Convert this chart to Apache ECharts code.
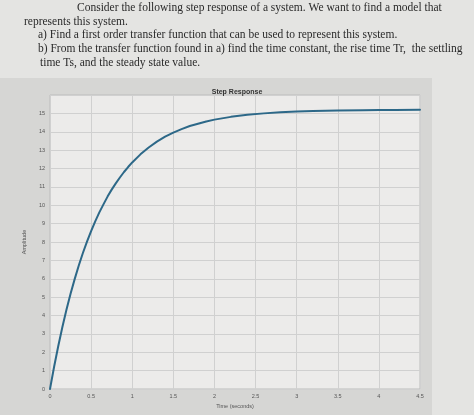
<!DOCTYPE html>
<html><head><meta charset="utf-8">
<script src="https://cdn.jsdelivr.net/npm/echarts@6/dist/echarts.min.js"></script>
<style>html,body{margin:0;padding:0;background:#e4e4e2;}#c{width:474px;height:415px;}</style>
</head><body><div id="c"></div>
<script>
const questionLines = [
  "Consider the following step response of a system. We want to find a model that",
  "represents this system.",
  "a) Find a first order transfer function that can be used to represent this system.",
  "b) From the transfer function found in a) find the time constant, the rise time Tr,  the settling",
  "time Ts, and the steady state value."
];
const timeValues = [0, 0.05, 0.1, 0.15, 0.2, 0.25, 0.3, 0.35, 0.4, 0.45, 0.5, 0.55, 0.6, 0.65, 0.7, 0.75, 0.8, 0.85, 0.9, 0.95, 1.0, 1.1, 1.2, 1.3, 1.4, 1.5, 1.6, 1.7, 1.8, 1.9, 2.0, 2.2, 2.4, 2.6, 2.8, 3.0, 3.2, 3.5, 3.8, 4.0, 4.2, 4.5];
const amplitudeValues = [0, 1.21, 2.33, 3.36, 4.31, 5.18, 5.98, 6.72, 7.40, 8.02, 8.59, 9.12, 9.61, 10.05, 10.47, 10.85, 11.19, 11.51, 11.81, 12.08, 12.33, 12.77, 13.14, 13.46, 13.73, 13.95, 14.14, 14.31, 14.44, 14.56, 14.66, 14.81, 14.92, 15.0, 15.06, 15.1, 15.13, 15.16, 15.17, 15.18, 15.19, 15.2];
const chartTitle = "Step Response";
const xAxisName = "Time (seconds)";
const yAxisName = "Amplitude";

const chart = echarts.init(document.getElementById('c'));
const lineX = [77, 24, 38, 38, 40];
const lineY = [2, 16, 29, 43, 57];
const textEls = questionLines.map((t, i) => ({
  type: 'text', left: lineX[i], top: lineY[i], z: 10,
  style: { text: t, font: '11.5px "Liberation Serif"', fill: '#2a2a2a' }
}));
chart.setOption({
  backgroundColor: '#e4e4e2',
  animation: false,
  graphic: [
    { type: 'rect', shape: { x: 0, y: 78, width: 432, height: 337 }, style: { fill: '#d6d6d4' }, z: -10 },
    ...textEls
  ],
  title: { text: chartTitle, left: 232, top: 84, textAlign: 'center',
    textStyle: { fontSize: 7, fontWeight: 'bold', color: '#333', fontFamily: 'Liberation Sans' } },
  grid: { left: 50, right: 54, top: 95, bottom: 26, show: true, backgroundColor: '#ecebea', borderColor: '#bcbcbc', borderWidth: 1 },
  xAxis: {
    type: 'value', min: 0, max: 4.5, interval: 0.5,
    name: xAxisName, nameLocation: 'middle', nameGap: 10,
    nameTextStyle: { fontSize: 5.5, color: '#555' },
    axisLine: { show: false }, axisTick: { show: false },
    axisLabel: { fontSize: 5.5, color: '#555', margin: 4 },
    splitLine: { lineStyle: { color: '#d0d0d0', width: 1 } }
  },
  yAxis: {
    type: 'value', min: 0, max: 16, interval: 1,
    name: yAxisName, nameLocation: 'middle', nameGap: 14, nameRotate: 90,
    nameTextStyle: { fontSize: 5.5, color: '#555' },
    axisLine: { show: false }, axisTick: { show: false },
    axisLabel: { fontSize: 5.5, color: '#555', margin: 5, formatter: v => v === 16 ? '' : v },
    splitLine: { lineStyle: { color: '#d0d0d0', width: 1 } }
  },
  series: [{
    type: 'line', smooth: false, showSymbol: false,
    data: timeValues.map((t, i) => [t, amplitudeValues[i]]),
    lineStyle: { color: '#2d6888', width: 2, join: 'round', cap: 'round' }
  }]
});
</script></body></html>
